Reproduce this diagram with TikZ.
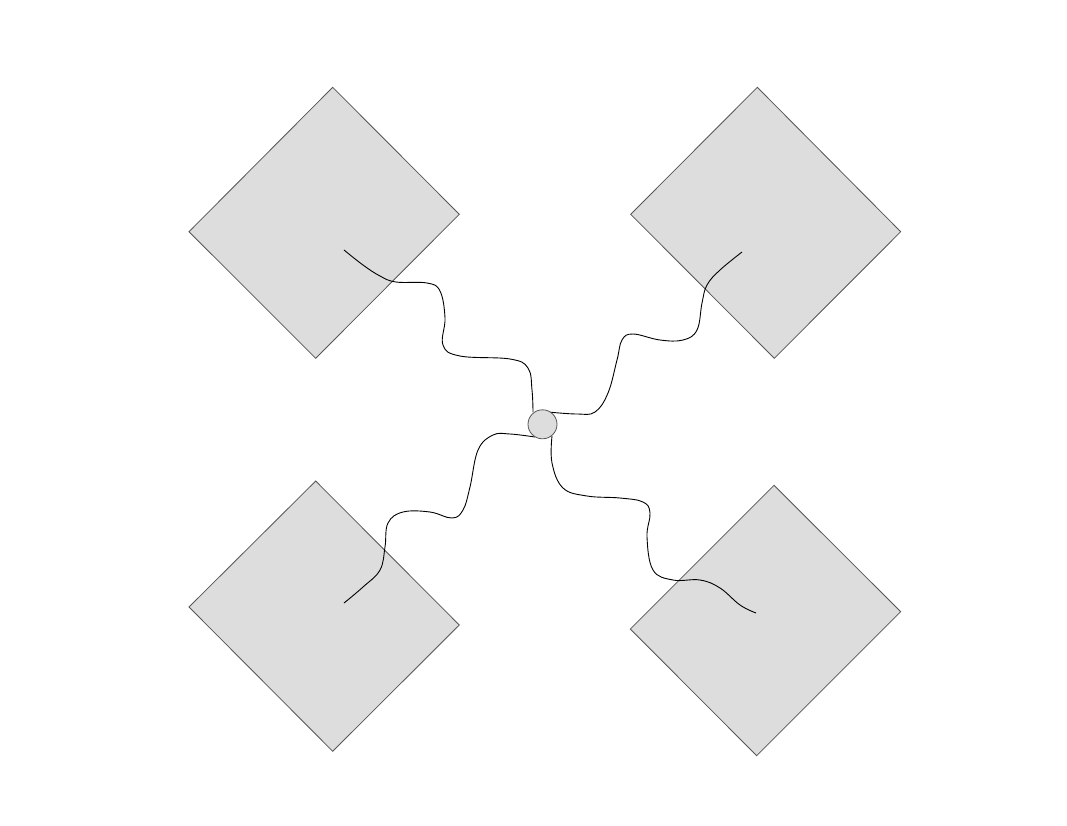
\documentclass[tikz,border=0pt]{standalone}
\begin{document}
\begin{tikzpicture}[x=1pt,y=-1pt,
  pad/.style={fill=padgray,draw=edgegray,line width=0.8pt,line join=miter},
  wire/.style={draw=black,line width=0.9pt},
  hub/.style={circle,fill=padgray,draw=edgegray,line width=0.8pt,minimum size=29pt,inner sep=0pt}]
\definecolor{padgray}{HTML}{DDDDDD}
\definecolor{edgegray}{HTML}{555555}
\useasboundingbox (0,0) rectangle (1067,825);
% pads
\path[pad] (332.7,87.3) -- (459.3,214.3) -- (315.7,358.3) -- (189,231.7) -- cycle;
\path[pad] (757.3,87.3) -- (900.7,231.7) -- (774.3,358.3) -- (630.7,214.3) -- cycle;
\path[pad] (315.7,481) -- (459.3,625) -- (332.7,751.3) -- (189,607) -- cycle;
\path[pad] (774,485.3) -- (900.7,611.7) -- (756.7,755.7) -- (630.3,629) -- cycle;
% wires
\draw[wire] plot[smooth,tension=0.65] coordinates {(344,250) (363,265) (380,276) (396,282) (427,283) (440,291) (445,318) (443,345) (460,356) (510,359) (528,368) (532,390) (533,412)};
\draw[wire] plot[smooth,tension=0.65] coordinates {(742,252) (720,270) (707,285) (702,303) (697,330) (683,340) (660,340) (633,334) (622,340) (617,360) (608,393) (595,412) (577,414) (548,412)};
\draw[wire] plot[smooth,tension=0.65] coordinates {(344,603) (363,587) (380,570) (385,547) (388,523) (403,512) (430,512) (452,518) (463,510) (470,487) (478,450) (493,435) (510,434) (535,437)};
\draw[wire] plot[smooth,tension=0.65] coordinates {(552,436) (552,463) (563,488) (587,496) (620,498) (643,502) (650,513) (647,537) (653,570) (673,580) (700,580) (720,588) (740,605) (756,613)};
% hub
\node[hub] (hub) at (542.5,424.3) {};
\end{tikzpicture}
\end{document}
